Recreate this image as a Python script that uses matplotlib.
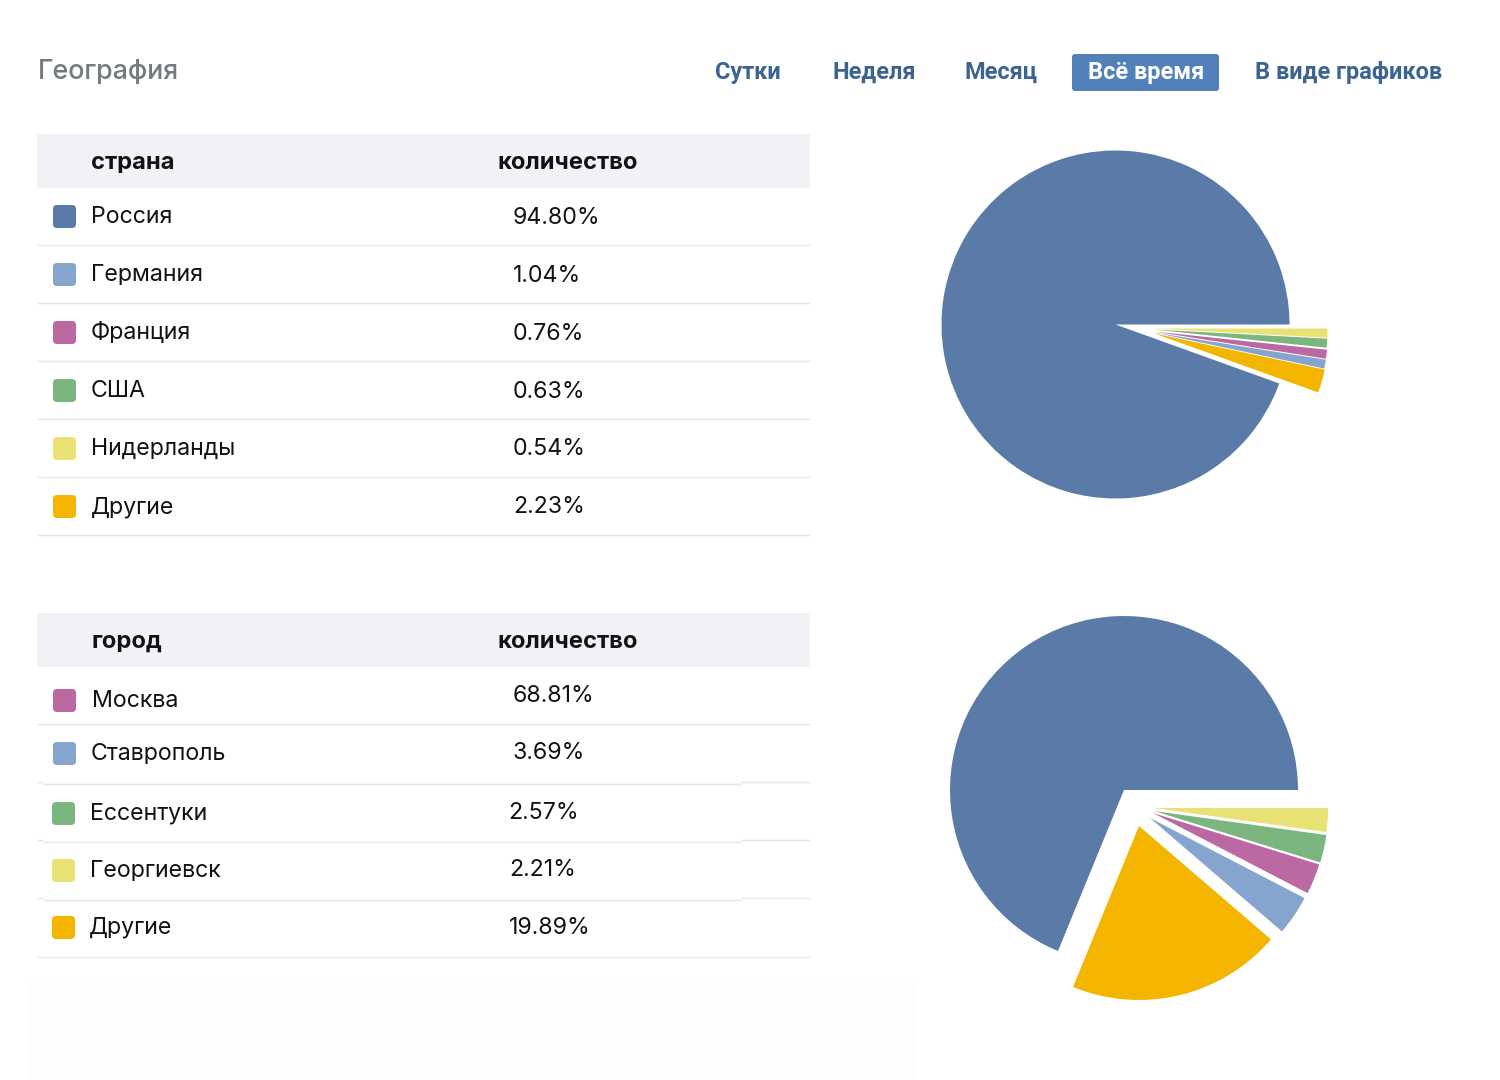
import matplotlib
matplotlib.use('Agg')
import matplotlib.pyplot as plt
from matplotlib.patches import FancyBboxPatch, Rectangle

# данные таблиц
countries = ['Россия', 'Германия', 'Франция', 'США', 'Нидерланды', 'Другие']
country_shares = ['94.80%', '1.04%', '0.76%', '0.63%', '0.54%', '2.23%']
cities = ['Москва', 'Ставрополь', 'Ессентуки', 'Георгиевск', 'Другие']
city_shares = ['68.81%', '3.69%', '2.57%', '2.21%', '19.89%']
nav_labels = ['Сутки', 'Неделя', 'Месяц', 'Всё время', 'В виде графиков']

# доли секторов как на картинке (малые секторы там шире, чем в таблице)
country_pie = [94.5, 2.17, 0.83, 0.83, 0.83, 0.84]
city_pie = [68.81, 19.89, 3.69, 2.83, 2.57, 2.21]

# цвета
BLUE = '#5A7BA8'
LIGHT = '#85A4CE'
PINK = '#BC68A3'
GREEN = '#7CB67F'
YELLOW = '#E8E274'
ORANGE = '#F3B500'
pie_colors = [BLUE, ORANGE, LIGHT, PINK, GREEN, YELLOW]
country_colors = [BLUE, LIGHT, PINK, GREEN, YELLOW, ORANGE]
city_colors = [PINK, LIGHT, GREEN, YELLOW, ORANGE]
LINE = '#E2E5EA'

# сдвиг секторов в пикселях (вправо, вниз)
country_shift = [(0, 0), (39, 9), (38.5, 8), (38.5, 7), (38, 5), (38, 4)]
city_shift = [(0, 0), (15, 36), (26, 28), (29, 23), (30, 21), (30, 18)]

FONT = 'Inter'
NAV_FONT = 'Roboto'

fig = plt.figure(figsize=(15, 10.8), dpi=100, facecolor='white')

# слой таблиц, координаты в пикселях картинки
ax = fig.add_axes([0, 0, 1, 1])
ax.set_xlim(0, 1500)
ax.set_ylim(1080, 0)
ax.axis('off')


def swatch(x, y, color):
    ax.add_patch(FancyBboxPatch((x + 4, y + 4), 15, 15, boxstyle='round,pad=4,rounding_size=4',
                                fc=color, ec='none'))


def cell(x, y, s, weight='normal', color='#101215', size=16.7):
    ax.text(x, y, s, fontsize=size, fontweight=weight, color=color, family=FONT, va='baseline', ha='left')


cell(37.5, 79, 'География', weight='medium', color='#737A82', size=19.3)

# кнопка и меню
ax.add_patch(FancyBboxPatch((1075, 57), 141, 31, boxstyle='round,pad=3,rounding_size=3', fc='#5181B8', ec='none'))
nav_x = [715, 832, 965, 1088, 1255]
for i in range(len(nav_labels)):
    ax.text(nav_x[i], 79, nav_labels[i], fontsize=16.95, fontweight='bold', family=NAV_FONT,
            color='white' if i == 3 else '#3C6491', va='baseline', ha='left')

# бледная плашка внизу
ax.add_patch(Rectangle((28, 982), 889, 98, fc='#FCFDFD', ec='none'))

# шапки таблиц
for top, title in [(134, 'страна'), (613, 'город')]:
    ax.add_patch(Rectangle((37, top), 773, 54, fc='#F0F2F6', ec='none'))
    cell(91.5, top + 35, title, weight='bold', size=17.1)
    cell(497.5, top + 35, 'количество', weight='bold', size=17.1)

# страны
name_y = [223, 281, 339, 397, 455, 513]
share_y = [224, 282, 340, 398, 455, 513]
line_y = [245, 303, 361, 419, 477, 535]
box_y = [205, 263, 321, 379, 437, 495]
for i in range(len(countries)):
    swatch(53, box_y[i], country_colors[i])
    cell(91, name_y[i], countries[i])
    cell(513, share_y[i], country_shares[i])
    ax.plot([37, 810], [line_y[i], line_y[i]], color=LINE, lw=1.0, solid_capstyle='butt')

# города
name_x = [92, 91, 90, 90, 89]
share_x = [513, 513, 508.5, 509, 508.5]
name_y = [707, 760, 819, 877, 934]
share_y = [702, 759, 819, 876, 934]
box_x = [53, 53, 52, 52, 52]
box_y = [689, 742, 802, 859, 916]
for i in range(len(cities)):
    swatch(box_x[i], box_y[i], city_colors[i])
    cell(name_x[i], name_y[i], cities[i])
    cell(share_x[i], share_y[i], city_shares[i])
ax.plot([37, 810], [724, 724], color=LINE, lw=1.0, solid_capstyle='butt')
ax.plot([37, 810], [956.5, 956.5], color=LINE, lw=1.0, solid_capstyle='butt')
for y in [784, 842, 900]:
    ax.plot([43, 741], [y, y], color=LINE, lw=1.0, solid_capstyle='butt')
    ax.plot([741, 810], [y - 2, y - 2], color=LINE, lw=1.0, solid_capstyle='butt')
    ax.plot([37, 43], [y - 2, y - 2], color=LINE, lw=1.0, solid_capstyle='butt')

# слой кругов, ось y вверх
pie_ax = fig.add_axes([0, 0, 1, 1])
pie_ax.patch.set_alpha(0)


def draw_pie(values, cx, cy, shift):
    wedges, _ = pie_ax.pie(values, colors=pie_colors, startangle=0, radius=174, center=(cx, 1080 - cy),
                           wedgeprops={'edgecolor': 'none'})
    for w, (dx, dy) in zip(wedges, shift):
        w.set_center((cx + dx, 1080 - cy - dy))


draw_pie(country_pie, 1115.5, 324.5, country_shift)
draw_pie(city_pie, 1124, 790, city_shift)
pie_ax.set_xlim(0, 1500)
pie_ax.set_ylim(0, 1080)
pie_ax.axis('off')

fig.savefig('out.png', dpi=100)
